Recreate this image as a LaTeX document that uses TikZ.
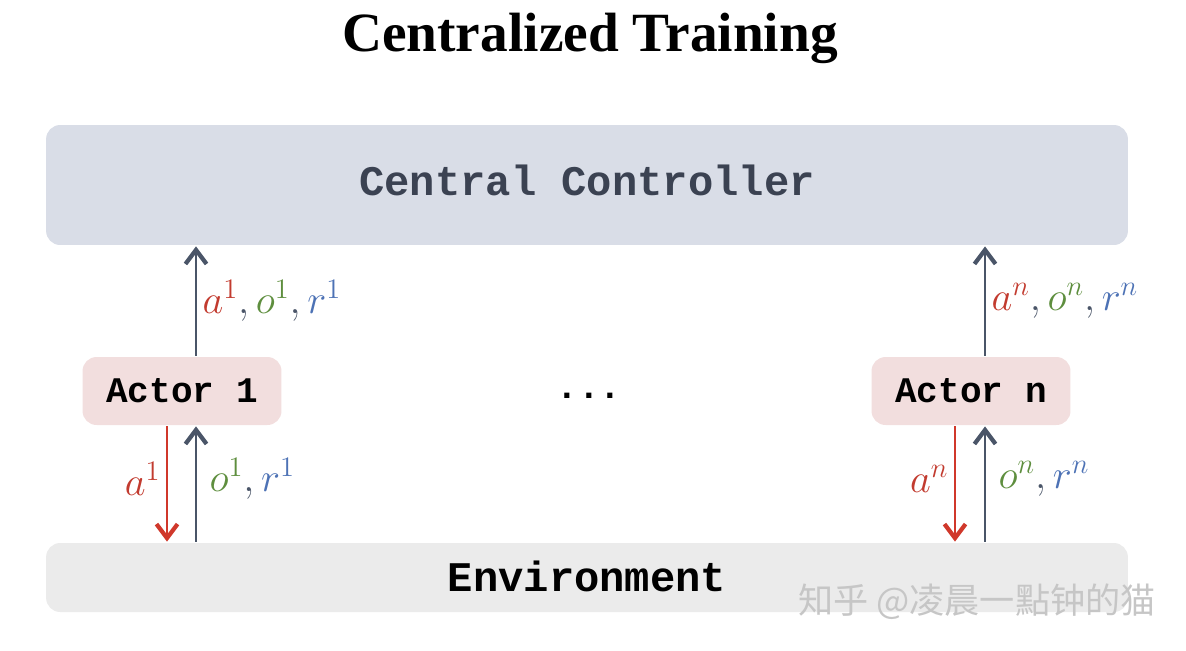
\RequirePackage{fix-cm}
\documentclass[tikz,border=0pt]{standalone}
\usepackage{fontspec}
\setmainfont{Liberation Serif}
\setmonofont{Liberation Mono}
\newfontfamily\cjk{Noto Sans CJK SC}
\usetikzlibrary{arrows.meta}

\definecolor{ctrlfill}{HTML}{D9DDE7}
\definecolor{ctrltext}{HTML}{3B4252}
\definecolor{actfill}{HTML}{F2DEDE}
\definecolor{envfill}{HTML}{EBEBEB}
\definecolor{slate}{HTML}{4A5568}
\definecolor{redarr}{HTML}{D0382B}
\definecolor{acol}{HTML}{C23B2F}
\definecolor{ocol}{HTML}{5E8E3E}
\definecolor{rcol}{HTML}{4D72B5}

\newcommand{\A}[1]{\textcolor{acol}{a^{#1}}}
\newcommand{\Ob}[1]{\textcolor{ocol}{o^{#1}}}
\newcommand{\R}[1]{\textcolor{rcol}{r^{#1}}}

\begin{document}
\begin{tikzpicture}[x=0.02cm,y=-0.02cm,>={Straight Barb[length=8pt,width=12pt,line width=2.4pt]},line width=1.6pt,
	box/.style={rectangle,rounded corners=8pt,inner sep=0pt},
	bigbox/.style={box,minimum width=21.64cm,font=\fontsize{24}{26}\selectfont\ttfamily\bfseries},
	actbox/.style={box,fill=actfill,minimum width=3.98cm,minimum height=1.36cm,font=\fontsize{20.5}{24}\selectfont\ttfamily\bfseries},
	lbl/.style={font=\fontsize{23}{26}\selectfont,inner sep=3pt}]
	\useasboundingbox (0,0) rectangle (1186,650);

	% Title
	\node (title) at (590,38) {\fontsize{31.5}{36}\selectfont\bfseries Centralized Training};

	% Boxes
	\node[bigbox,fill=ctrlfill,text=ctrltext,minimum height=2.4cm] (ctrl) at (587,185) {\raisebox{5pt}{Central Controller}};
	\node[actbox] (act1) at (182,391) {Actor 1};
	\node[actbox] (actn) at (971,391) {Actor n};
	\node[font=\fontsize{20.5}{24}\selectfont\ttfamily\bfseries] (dots) at (589,396) {...};
	\node[bigbox,fill=envfill,minimum height=1.38cm] (env) at (587,577.5) {\raisebox{1pt}{Environment}};

	% Actor 1
	\draw[->,slate] ([xshift=.28cm]act1.north) -- ([xshift=.28cm]act1.north |- ctrl.south)
		node[lbl,midway,right] {$\A{1}{,}\,\Ob{1}{,}\,\R{1}$};
	\draw[->,redarr] ([xshift=-.3cm]act1.south) -- ([xshift=-.3cm]act1.south |- env.north)
		node[lbl,midway,left,yshift=3pt] {$\A{1}$};
	\draw[->,slate] ([xshift=.28cm]act1.south |- env.north) -- ([xshift=.28cm]act1.south)
		node[lbl,midway,right,xshift=4pt,yshift=3pt] {$\Ob{1}{,}\,\R{1}$};

	% Actor n
	\draw[->,slate] ([xshift=.28cm]actn.north) -- ([xshift=.28cm]actn.north |- ctrl.south)
		node[lbl,midway,right] {$\A{n}{,}\,\Ob{n}{,}\,\R{n}$};
	\draw[->,redarr] ([xshift=-.32cm]actn.south) -- ([xshift=-.32cm]actn.south |- env.north)
		node[lbl,midway,left,yshift=3pt] {$\A{n}$};
	\draw[->,slate] ([xshift=.28cm]actn.south |- env.north) -- ([xshift=.28cm]actn.south)
		node[lbl,midway,right,xshift=4pt,yshift=3pt] {$\Ob{n}{,}\,\R{n}$};

	% Watermark
	\node[text=gray!45,font=\fontsize{20}{22}\selectfont\cjk] (mark) at (977,602) {知乎 @凌晨一點钟的猫};
\end{tikzpicture}
\end{document}
